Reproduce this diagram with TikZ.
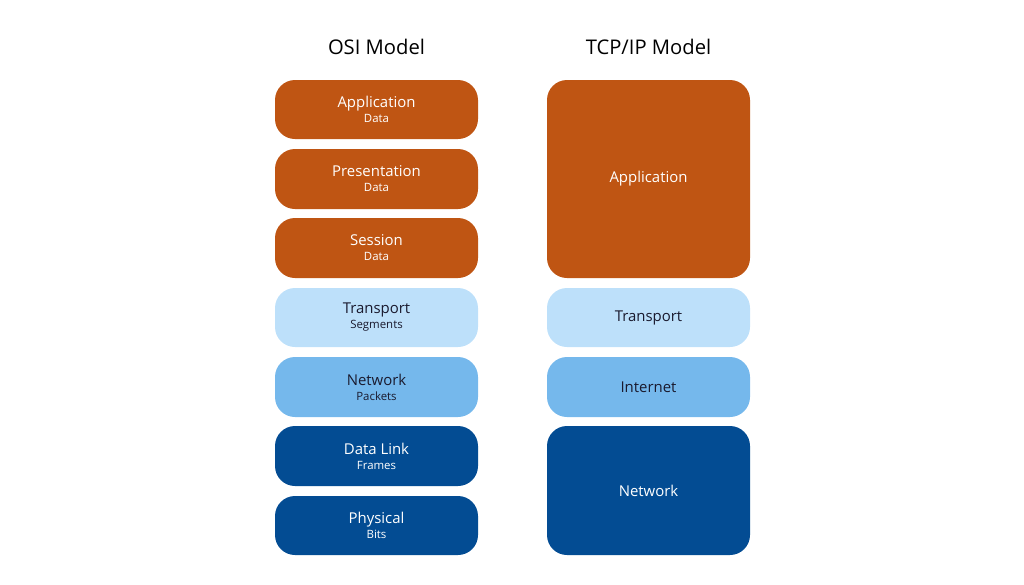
\documentclass[tikz,border=0pt]{standalone}
\usepackage{fontspec}
\setmainfont{Open Sans}
\usetikzlibrary{positioning}
\definecolor{appcol}{HTML}{BF5513}
\definecolor{tracol}{HTML}{BDE0FA}
\definecolor{netcol}{HTML}{75B8EC}
\definecolor{lnkcol}{HTML}{034C93}
\definecolor{txtdark}{HTML}{1A1A2E}
\tikzset{
  layer/.style={rounded corners=0.4cm,minimum width=4.06cm,align=center,inner sep=0pt,font=\fontsize{8.5}{9.5}\selectfont},
  light/.style={text=white},
  dark/.style={text=txtdark},
  title/.style={font=\fontsize{11.5}{13}\selectfont}
}
\newcommand{\sublbl}[1]{\\[-1pt]{\fontsize{6.5}{8}\selectfont #1}}
\newcommand{\osilayer}[6]{% name, top, bottom, colour, text style, text
  \node[layer,fill=#4,#5,minimum height={(#3-#2)/50*1cm}] (#1) at (7.53,{-(#2+#3)/100}) {#6};}
\newcommand{\tcplayer}[6]{
  \node[layer,fill=#4,#5,minimum height={(#3-#2)/50*1cm}] (#1) at (12.97,{-(#2+#3)/100}) {#6};}
\begin{document}
\begin{tikzpicture}
\useasboundingbox (0,0) rectangle (20.48,-11.68);
\node[title] (osi) at (7.53,-0.93) {OSI Model};
\node[title] (tcp) at (12.97,-0.93) {TCP/IP Model};
% OSI stack
\osilayer{oapp}{80}{139}{appcol}{light}{Application\sublbl{Data}}
\osilayer{opre}{149}{209}{appcol}{light}{Presentation\sublbl{Data}}
\osilayer{oses}{218}{278}{appcol}{light}{Session\sublbl{Data}}
\osilayer{otra}{288}{347}{tracol}{dark}{Transport\sublbl{Segments}}
\osilayer{onet}{357}{417}{netcol}{dark}{Network\sublbl{Packets}}
\osilayer{odat}{426}{486}{lnkcol}{light}{Data Link\sublbl{Frames}}
\osilayer{ophy}{496}{555}{lnkcol}{light}{Physical\sublbl{Bits}}
% TCP/IP stack
\tcplayer{tapp}{80}{278}{appcol}{light}{Application}
\tcplayer{ttra}{288}{347}{tracol}{dark}{Transport}
\tcplayer{tint}{357}{417}{netcol}{dark}{Internet}
\tcplayer{tnet}{426}{555}{lnkcol}{light}{Network}
\end{tikzpicture}
\end{document}
